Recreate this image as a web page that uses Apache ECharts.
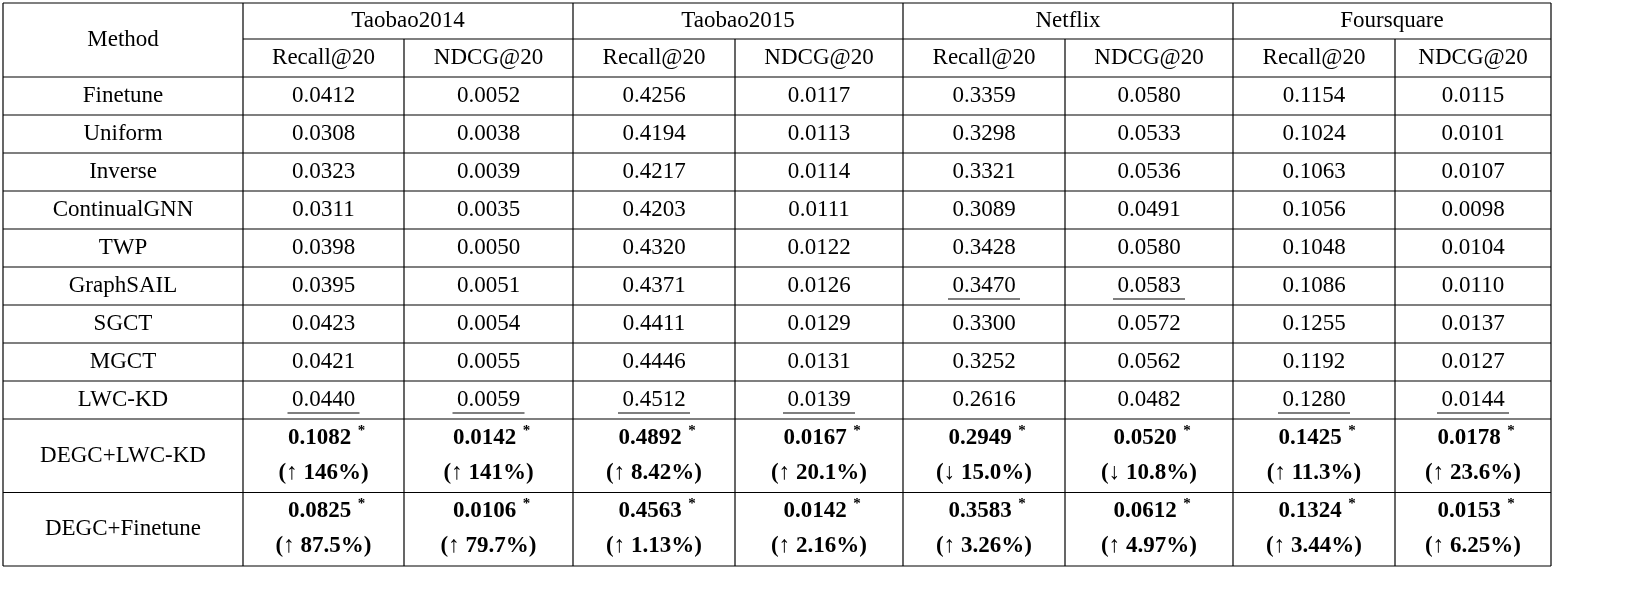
<!DOCTYPE html>
<html><head><meta charset="utf-8">
<script src="https://cdn.jsdelivr.net/npm/echarts@6/dist/echarts.min.js"></script>
<style>html,body{margin:0;padding:0;background:#fff}#c{width:1633px;height:592px}</style>
</head><body><div id="c"></div>
<script>
const datasets = ['Taobao2014','Taobao2015','Netflix','Foursquare'];
const metrics = ['Recall@20','NDCG@20'];
const methods = ['Finetune','Uniform','Inverse','ContinualGNN','TWP','GraphSAIL','SGCT','MGCT','LWC-KD'];
const values = [
 ['0.0412','0.0052','0.4256','0.0117','0.3359','0.0580','0.1154','0.0115'],
 ['0.0308','0.0038','0.4194','0.0113','0.3298','0.0533','0.1024','0.0101'],
 ['0.0323','0.0039','0.4217','0.0114','0.3321','0.0536','0.1063','0.0107'],
 ['0.0311','0.0035','0.4203','0.0111','0.3089','0.0491','0.1056','0.0098'],
 ['0.0398','0.0050','0.4320','0.0122','0.3428','0.0580','0.1048','0.0104'],
 ['0.0395','0.0051','0.4371','0.0126','0.3470','0.0583','0.1086','0.0110'],
 ['0.0423','0.0054','0.4411','0.0129','0.3300','0.0572','0.1255','0.0137'],
 ['0.0421','0.0055','0.4446','0.0131','0.3252','0.0562','0.1192','0.0127'],
 ['0.0440','0.0059','0.4512','0.0139','0.2616','0.0482','0.1280','0.0144']
];
const underlined = [[5,4],[5,5],[8,0],[8,1],[8,2],[8,3],[8,6],[8,7]];
const oursMethods = ['DEGC+LWC-KD','DEGC+Finetune'];
const oursValues = [
 ['0.1082','0.0142','0.4892','0.0167','0.2949','0.0520','0.1425','0.0178'],
 ['0.0825','0.0106','0.4563','0.0142','0.3583','0.0612','0.1324','0.0153']
];
const oursGain = [
 ['↑ 146%','↑ 141%','↑ 8.42%','↑ 20.1%','↓ 15.0%','↓ 10.8%','↑ 11.3%','↑ 23.6%'],
 ['↑ 87.5%','↑ 79.7%','↑ 1.13%','↑ 2.16%','↑ 3.26%','↑ 4.97%','↑ 3.44%','↑ 6.25%']
];

const colX = [3,243,404,573,735,903,1065,1233,1395,1551];
const topY = 3, dRow = 38, bigRow = 73.5;
const rowY = [topY, topY+36, topY+74];
for (let i=0;i<methods.length;i++) rowY.push(rowY[rowY.length-1]+dRow);
for (let i=0;i<oursMethods.length;i++) rowY.push(rowY[rowY.length-1]+bigRow);
const bottomY = rowY[rowY.length-1];
const FONT = '"Liberation Serif", serif';
const FS = 23;
const g = [];
function line(x1,y1,x2,y2){g.push({type:'line',shape:{x1,y1,x2,y2},style:{stroke:'#000',lineWidth:1.2},silent:true});}
function text(x,y,t,opt){g.push({type:'text',x,y,style:Object.assign({text:t,fontFamily:FONT,fontSize:FS,fill:'#000',align:'center',verticalAlign:'middle'},opt||{})});}
line(colX[0],topY,colX[9],topY);
line(colX[1],rowY[1],colX[9],rowY[1]);
for (let r=2;r<rowY.length;r++) line(colX[0],rowY[r],colX[9],rowY[r]);
for (let c=0;c<colX.length;c++){
  const isInner = c>=2 && c<=8 && c%2===0;
  line(colX[c], isInner? rowY[1]: topY, colX[c], bottomY);
}
const cx = c => (colX[c]+colX[c+1])/2;
text(cx(0),(rowY[0]+rowY[2])/2,'Method');
datasets.forEach((d,i)=>text((colX[1+2*i]+colX[3+2*i])/2,(rowY[0]+rowY[1])/2,d));
for (let c=0;c<8;c++) text(cx(c+1),(rowY[1]+rowY[2])/2,metrics[c%2]);
methods.forEach((m,r)=>{
  const y=(rowY[2+r]+rowY[3+r])/2;
  text(cx(0),y,m);
  values[r].forEach((v,c)=>text(cx(c+1),y,v));
});
underlined.forEach(([r,c])=>{
  const y=(rowY[2+r]+rowY[3+r])/2+13, x=cx(c+1);
  line(x-36,y,x+36,y);
});
oursMethods.forEach((m,k)=>{
  const r=2+methods.length+k;
  const y0=rowY[r], y1=rowY[r+1];
  text(cx(0),(y0+y1)/2,m);
  oursValues[k].forEach((v,c)=>{
    const x=cx(c+1);
    text(x-4,y0+19,v,{fontWeight:'bold'});
    text(x+38,y0+12,'*',{fontSize:15,fontWeight:'bold'});
    text(x,y0+54,'('+oursGain[k][c]+')',{fontWeight:'bold'});
  });
});
const chart = echarts.init(document.getElementById('c'));
chart.setOption({animation:false,graphic:{elements:g}});
</script></body></html>
